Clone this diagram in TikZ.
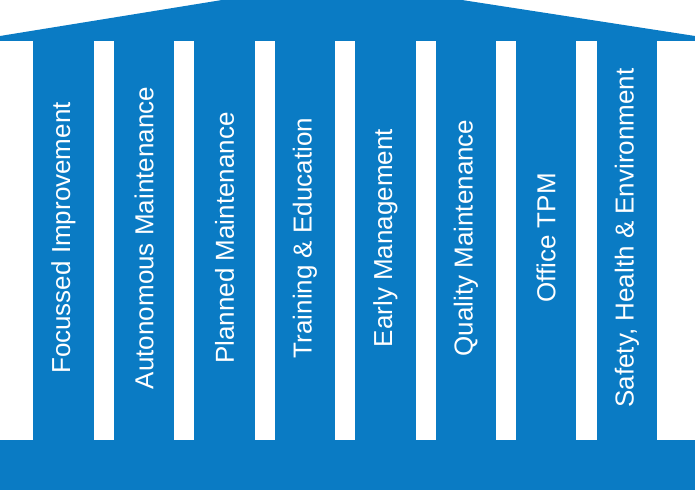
\documentclass[tikz,border=0pt]{standalone}
\usepackage{fontspec}
\setmainfont{Liberation Sans}
\definecolor{tpm}{HTML}{0A7BC4}
\begin{document}
\begin{tikzpicture}[x=1pt,y=-1pt,
  pillar/.style={fill=tpm},
  lbl/.style={rotate=90,text=white,font=\fontsize{26}{30}\selectfont,inner sep=0pt}]
\useasboundingbox (0,0) rectangle (695,497);
\fill[tpm] (222,0) -- (462,0) -- (695,36) -- (695,41) -- (0,41) -- (0,36) -- cycle;
\fill[tpm] (0,440) rectangle (695,490);
\foreach \x/\w/\t [count=\i] in {33/61/Focussed Improvement,114/60/Autonomous Maintenance,194/61/Planned Maintenance,275/60/Training \& Education,355/61/Early Management,436/60/Quality Maintenance,516/60/Office TPM,597/60/{Safety, Health \& Environment}}{
  \fill[tpm] (\x,40) rectangle ++(\w,401);
  \node[lbl] (p\i) at ({\x+\w/2},238) {\t};
}
\end{tikzpicture}
\end{document}
